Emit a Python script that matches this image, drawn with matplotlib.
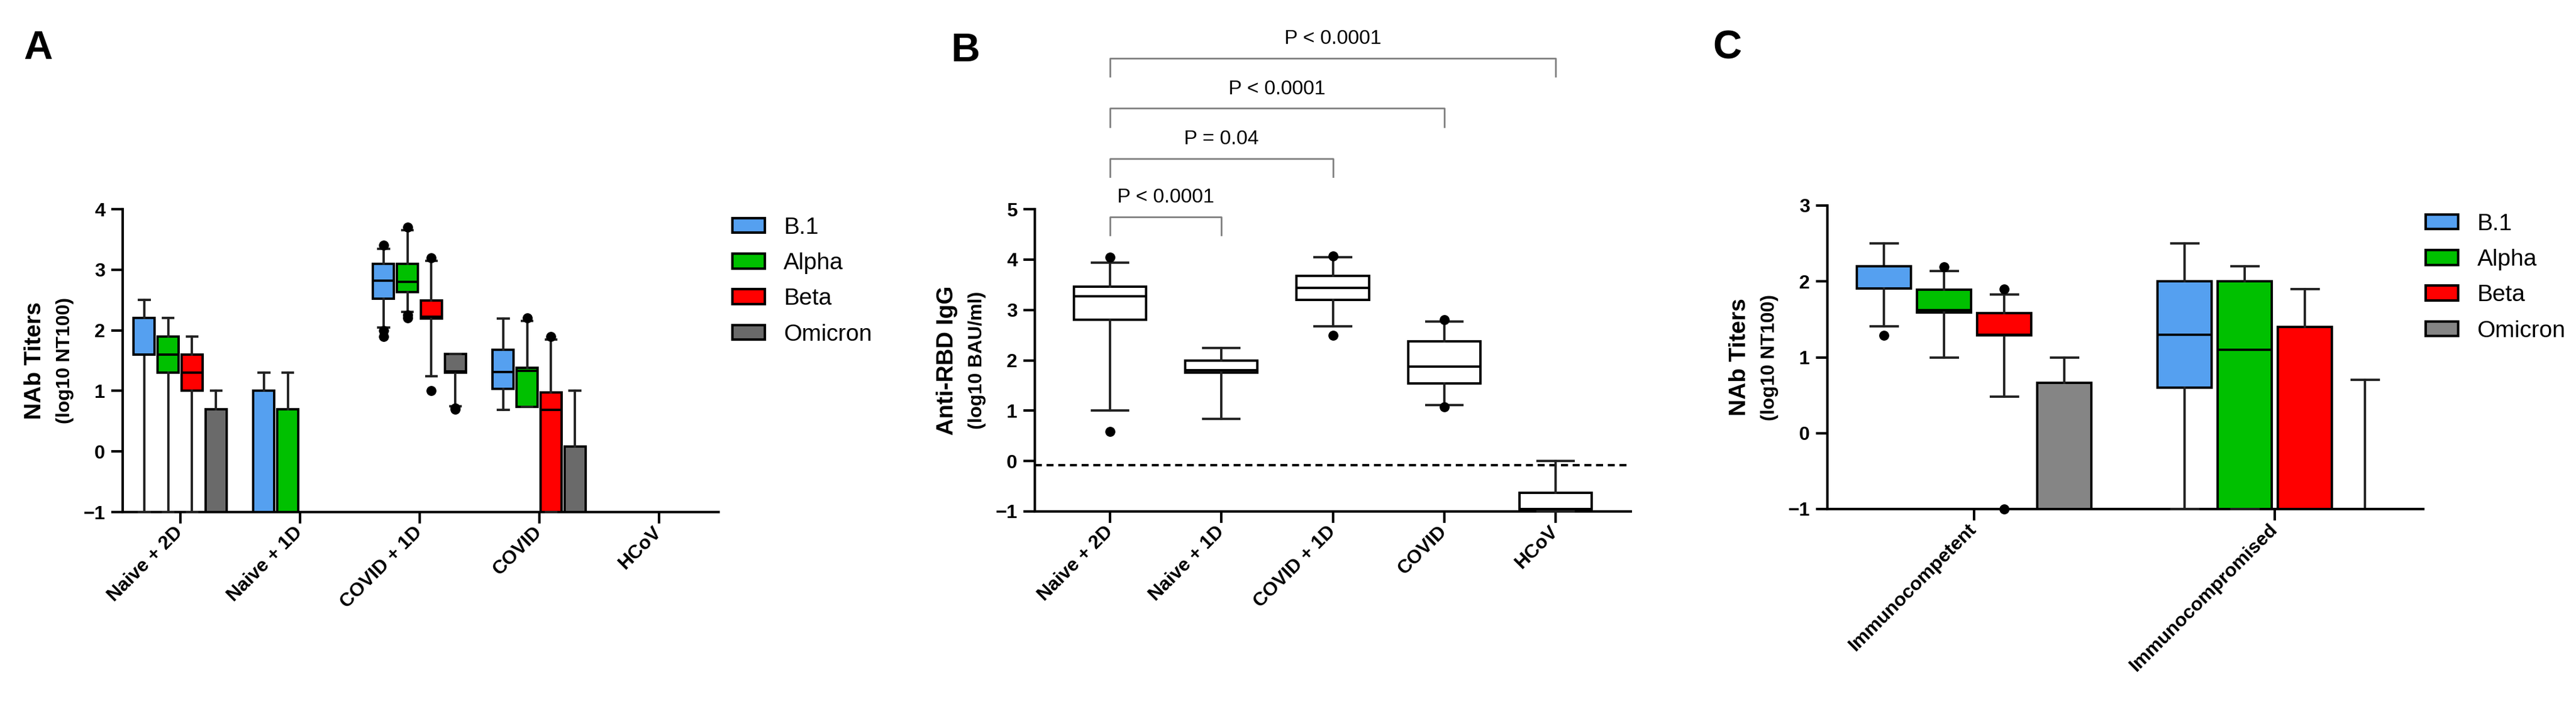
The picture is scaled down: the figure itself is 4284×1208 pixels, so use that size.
import matplotlib
matplotlib.use("Agg")
import matplotlib.pyplot as plt
from matplotlib.patches import Patch

plt.rcParams["font.family"] = ["Liberation Sans", "DejaVu Sans"]

# ---------------------------------------------------------------------------
# Data (log10 values)
# ---------------------------------------------------------------------------
variants = ["B.1", "Alpha", "Beta", "Omicron"]

groups_a = ["Naive + 2D", "Naive + 1D", "COVID + 1D", "COVID", "HCoV"]
# per variant, per group: (whislo, q1, med, q3, whishi, fliers); None = no data
a_b1 = [(-1, 1.6, 1.6, 2.2, 2.5, []),
        (-1, -1, -1, 1.0, 1.3, []),
        (2.05, 2.52, 2.82, 3.10, 3.35, [3.4, 2.0, 1.9]),
        (0.69, 1.03, 1.31, 1.68, 2.19, []),
        (-1, -1, -1, -1, -1, [])]
a_alpha = [(-1, 1.3, 1.6, 1.9, 2.2, []),
           (-1, -1, -1, 0.7, 1.3, []),
           (2.3, 2.63, 2.80, 3.10, 3.65, [3.7, 2.25, 2.2]),
           (0.74, 0.74, 1.33, 1.38, 2.15, [2.2]),
           (-1, -1, -1, -1, -1, [])]
a_beta = [(-1, 1.0, 1.3, 1.6, 1.9, []),
          (-1, -1, -1, -1, -1, []),
          (1.24, 2.19, 2.22, 2.49, 3.15, [3.2, 1.0]),
          (-1, -1, 0.69, 0.97, 1.85, [1.9]),
          (-1, -1, -1, -1, -1, [])]
a_omicron = [(-1, -1, -1, 0.7, 1.0, []),
             None,
             (0.75, 1.30, 1.32, 1.61, 1.61, [0.7, 0.72]),
             (-1, -1, -1, 0.08, 1.0, []),
             (-1, -1, -1, -1, -1, [])]

groups_b = ["Naive + 2D", "Naive + 1D", "COVID + 1D", "COVID", "HCoV"]
b_igg = [(1.0, 2.81, 3.27, 3.46, 3.94, [4.04, 0.59]),
         (0.84, 1.75, 1.80, 2.0, 2.24, []),
         (2.67, 3.2, 3.44, 3.68, 4.05, [4.07, 2.5]),
         (1.11, 1.54, 1.88, 2.38, 2.77, [2.8, 1.07]),
         (-1, -0.95, -0.95, -0.63, 0.0, [])]
b_cutoff = -0.08
b_pvalues = [(0, 1, "P < 0.0001"), (0, 2, "P = 0.04"),
             (0, 3, "P < 0.0001"), (0, 4, "P < 0.0001")]

groups_c = ["Immunocompetent", "Immunocompromised"]
c_b1 = [(1.41, 1.91, 2.2, 2.2, 2.5, [1.29]),
        (-1, 0.6, 1.3, 2.0, 2.5, [])]
c_alpha = [(1.0, 1.59, 1.62, 1.89, 2.14, [2.19]),
           (-1, -1, 1.1, 2.0, 2.2, [])]
c_beta = [(0.48, 1.29, 1.30, 1.58, 1.83, [1.9, -1.0]),
          (-1, -1, -1, 1.4, 1.9, [])]
c_omicron = [(-1, -1, -1, 0.66, 1.0, []),
             (-1, -1, -1, -1, 0.7, [])]

# ---------------------------------------------------------------------------
# Style
# ---------------------------------------------------------------------------
BLUE, GREEN, RED = "#55A0F0", "#00C000", "#FF0000"
GRAY_A, GRAY_C = "#6A6A6A", "#858585"
LW = 2.8
TICK_FS, YLAB_FS, YSUB_FS, LEG_FS = 23, 28, 23, 28
OFFSETS = [-0.3, -0.1, 0.1, 0.3]


def to_stats(rows):
    out, idx = [], []
    for i, r in enumerate(rows):
        if r is None:
            continue
        lo, q1, med, q3, hi, fl = r
        out.append(dict(whislo=lo, q1=q1, med=med, q3=q3, whishi=hi, fliers=fl))
        idx.append(i)
    return out, idx


def draw_boxes(ax, rows, centers, width, color):
    stats, idx = to_stats(rows)
    pos = [centers[i] for i in idx]
    art = ax.bxp(stats, positions=pos, widths=width, patch_artist=True,
                 showfliers=True, manage_ticks=False,
                 boxprops=dict(facecolor=color, edgecolor="black", linewidth=LW),
                 medianprops=dict(color="black", linewidth=LW),
                 whiskerprops=dict(color="#222222", linewidth=LW),
                 capprops=dict(color="#222222", linewidth=LW),
                 flierprops=dict(marker="o", markerfacecolor="black",
                                 markeredgecolor="black", markersize=11))
    for key in art:
        for a in art[key]:
            a.set_clip_on(False)
            a.set_zorder(3)


def style_axes(ax, ylim, labels, rot):
    for s in ("top", "right"):
        ax.spines[s].set_visible(False)
    for s in ("left", "bottom"):
        ax.spines[s].set_linewidth(3)
    ax.set_ylim(*ylim)
    ax.set_yticks(range(ylim[0], ylim[1] + 1))
    ax.set_xticks(range(len(labels)))
    ax.set_xticklabels(labels, rotation=rot, ha="right", va="center",
                       rotation_mode="anchor", fontweight="bold", fontsize=TICK_FS)
    ax.tick_params(axis="both", width=3, length=14, labelsize=TICK_FS, pad=7)
    for t in ax.get_yticklabels():
        t.set_fontweight("bold")


def ylabel(ax, main, sub):
    ax.text(-0.147, 0.5, main, transform=ax.transAxes, rotation=90,
            ha="center", va="center", fontsize=YLAB_FS, fontweight="bold")
    ax.text(-0.097, 0.5, sub, transform=ax.transAxes, rotation=90,
            ha="center", va="center", fontsize=YSUB_FS, fontweight="bold")


def legend(ax, colors, x):
    handles = [Patch(facecolor=c, edgecolor="black", linewidth=3) for c in colors]
    ax.legend(handles, variants, loc="upper left", bbox_to_anchor=(x, 0.975),
              frameon=False, fontsize=LEG_FS, handlelength=1.4, handleheight=0.6,
              handletextpad=0.8, labelspacing=0.6, borderpad=0, borderaxespad=0)


W, H = 4284, 1208
fig = plt.figure(figsize=(W / 100, H / 100), dpi=100)

# ---------------------------------------------------------------------------
# Panel A
# ---------------------------------------------------------------------------
axA = fig.add_axes([204 / W, 1 - 852 / H, 991 / W, 504 / H])
for rows, off, col in zip([a_b1, a_alpha, a_beta, a_omicron], OFFSETS,
                          [BLUE, GREEN, RED, GRAY_A]):
    draw_boxes(axA, rows, [i + off for i in range(len(groups_a))], 0.175, col)
style_axes(axA, (-1, 4), groups_a, 45)
axA.set_xlim(-0.48, 4.5)
ylabel(axA, "NAb Titers", "(log10 NT100)")
legend(axA, [BLUE, GREEN, RED, GRAY_A], 1.023)

# ---------------------------------------------------------------------------
# Panel B
# ---------------------------------------------------------------------------
axB = fig.add_axes([1721 / W, 1 - 851 / H, 991 / W, 503 / H])
draw_boxes(axB, b_igg, list(range(len(groups_b))), 0.65, "white")
style_axes(axB, (-1, 5), groups_b, 45)
axB.set_xlim(-0.675, 4.675)
axB.axhline(b_cutoff, color="black", linewidth=2.8, linestyle=(0, (3, 2)), zorder=1)
ylabel(axB, "Anti-RBD IgG", "(log10 BAU/ml)")
bracket_y = [4.85, 6.0, 7.0, 8.0]
for (i, j, txt), y in zip(b_pvalues, bracket_y):
    axB.plot([i, i, j, j], [y - 0.36, y, y, y - 0.36], color="#808080",
             linewidth=2, clip_on=False)
    axB.text((i + j) / 2, y + 0.2, txt, ha="center", va="bottom",
             fontsize=24, clip_on=False)

# ---------------------------------------------------------------------------
# Panel C
# ---------------------------------------------------------------------------
axC = fig.add_axes([3039 / W, 1 - 847 / H, 991 / W, 505 / H])
for rows, off, col in zip([c_b1, c_alpha, c_beta, c_omicron], OFFSETS,
                          [BLUE, GREEN, RED, GRAY_C]):
    draw_boxes(axC, rows, [i + off for i in range(len(groups_c))], 0.18, col)
style_axes(axC, (-1, 3), groups_c, 45)
axC.set_xlim(-0.488, 1.494)
ylabel(axC, "NAb Titers", "(log10 NT100)")
legend(axC, [BLUE, GREEN, RED, GRAY_C], 1.004)

for letter, x, y in [("A", 63, 81), ("B", 1606, 85), ("C", 2872, 80)]:
    fig.text(x / W, 1 - y / H, letter, ha="center", va="center",
             fontsize=48, fontweight="bold")

fig.savefig("out.png", dpi=100, facecolor="white")
